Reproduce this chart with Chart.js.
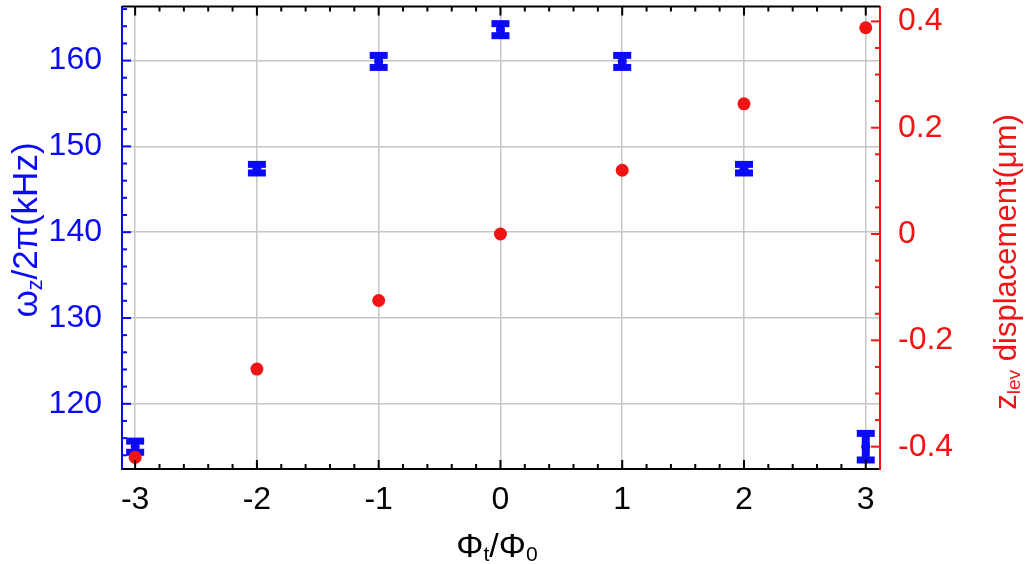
<!DOCTYPE html>
<html>
<head>
<meta charset="utf-8">
<script src="https://cdn.jsdelivr.net/npm/chart.js@4/dist/chart.umd.min.js"></script>
<style>
html, body { margin: 0; padding: 0; background: #fff; }
#wrap { width: 1025px; height: 564px; }
</style>
</head>
<body>
<div id="wrap"><canvas id="chart" width="1025" height="564"></canvas></div>
<script>
// flux ratio (x axis)
const fluxRatio = [-3, -2, -1, 0, 1, 2, 3];
// trap frequency wz/2pi (kHz) and its error
const freqKHz = [115.0, 147.4, 159.9, 163.6, 159.9, 147.4, 115.0];
const freqErr = [0.65, 0.5, 0.7, 0.7, 0.7, 0.5, 1.55];
// levitation displacement (um)
const zLev = [-0.42, -0.254, -0.125, 0, 0.12, 0.245, 0.388];

// tick labels
const xTicks = [-3, -2, -1, 0, 1, 2, 3];
const leftTicks = [120, 130, 140, 150, 160];
const rightTicks = [-0.4, -0.2, 0, 0.2, 0.4];

const BLUE = 'rgb(10,10,245)';
const RED = 'rgb(240,20,20)';
const FONT = '"Liberation Sans", Arial, sans-serif';

// draws text made of normal and subscript parts, centered at (x, y)
function drawSubText(ctx, parts, x, y, angle, size, color, drop) {
    ctx.save();
    ctx.translate(x, y);
    ctx.rotate(angle);
    ctx.fillStyle = color;
    ctx.textBaseline = 'alphabetic';
    let total = 0;
    parts.forEach(p => {
        ctx.font = (p.sub ? size * 0.62 : size) + 'px ' + FONT;
        p.w = ctx.measureText(p.t).width;
        total += p.w;
    });
    let cx = -total / 2;
    parts.forEach(p => {
        ctx.font = (p.sub ? size * 0.62 : size) + 'px ' + FONT;
        ctx.fillText(p.t, cx, size * 0.36 + (p.sub ? size * drop : 0));
        cx += p.w;
    });
    ctx.restore();
}

const decor = {
    id: 'decor',
    beforeDatasetsDraw(chart) {
        // error bars for the frequency series
        const { ctx, scales } = chart;
        ctx.save();
        ctx.fillStyle = BLUE;
        fluxRatio.forEach((fx, i) => {
            const px = scales.x.getPixelForValue(fx);
            const top = scales.y.getPixelForValue(freqKHz[i] + freqErr[i]);
            const bot = scales.y.getPixelForValue(freqKHz[i] - freqErr[i]);
            ctx.fillRect(px - 4, top, 8, bot - top);
            ctx.fillRect(px - 9, top - 3.5, 18, 7);
            ctx.fillRect(px - 9, bot - 3.5, 18, 7);
        });
        ctx.restore();
    },
    afterDraw(chart) {
        const { ctx, chartArea: a, scales } = chart;
        ctx.save();
        ctx.lineWidth = 2;

        // top frame line
        ctx.strokeStyle = '#000';
        ctx.beginPath();
        ctx.moveTo(a.left, a.top);
        ctx.lineTo(a.right, a.top);
        ctx.stroke();

        // x ticks, inward, bottom and top
        for (let k = -15; k <= 15; k++) {
            const px = scales.x.getPixelForValue(k / 5);
            const len = k % 5 === 0 ? 9 : 5;
            ctx.beginPath();
            ctx.moveTo(px, a.bottom); ctx.lineTo(px, a.bottom - len);
            ctx.moveTo(px, a.top); ctx.lineTo(px, a.top + len);
            ctx.stroke();
        }

        // left ticks
        ctx.strokeStyle = BLUE;
        for (let v = 114; v <= 166; v += 2) {
            const py = scales.y.getPixelForValue(v);
            const len = v % 10 === 0 ? 9 : 5;
            ctx.beginPath();
            ctx.moveTo(a.left, py); ctx.lineTo(a.left + len, py);
            ctx.stroke();
        }

        // right ticks
        ctx.strokeStyle = RED;
        for (let k = -8; k <= 8; k++) {
            const py = scales.y1.getPixelForValue(k * 0.05);
            const len = k % 4 === 0 ? 9 : 5;
            ctx.beginPath();
            ctx.moveTo(a.right, py); ctx.lineTo(a.right - len, py);
            ctx.stroke();
        }
        ctx.restore();

        // axis titles with subscripts
        drawSubText(ctx, [{ t: 'ω' }, { t: 'z', sub: true }, { t: '/2π(kHz)' }],
            24, 230, -Math.PI / 2, 35, BLUE, 0.15);
        drawSubText(ctx, [{ t: 'z' }, { t: 'lev', sub: true }, { t: ' displacement(μm)' }],
            1005, 262, -Math.PI / 2, 31, RED, 0.12);
        drawSubText(ctx, [{ t: 'Φ' }, { t: 't', sub: true }, { t: '/Φ' }, { t: '0', sub: true }],
            497, 545, 0, 34, '#000', 0.1);
    }
};

// drop the extra room chart.js keeps for tick label overflow
function noPad(s) {
    s.paddingTop = 0; s.paddingBottom = 0;
    s.paddingLeft = 0; s.paddingRight = 0;
}

const ctx = document.getElementById('chart').getContext('2d');
const chart = new Chart(ctx, {
    type: 'scatter',
    data: {
        datasets: [{
            label: 'z_lev',
            data: fluxRatio.map((x, i) => ({ x: x, y: zLev[i] })),
            yAxisID: 'y1',
            pointRadius: 6.5,
            pointBackgroundColor: RED,
            pointBorderWidth: 0,
            order: 0
        }, {
            label: 'wz/2pi',
            data: fluxRatio.map((x, i) => ({ x: x, y: freqKHz[i] })),
            yAxisID: 'y',
            pointRadius: 4.5,
            pointBackgroundColor: BLUE,
            pointBorderWidth: 0,
            order: 1
        }]
    },
    options: {
        responsive: false,
        animation: false,
        layout: { padding: { top: 2 } },
        plugins: { legend: { display: false }, tooltip: { enabled: false } },
        scales: {
            x: {
                type: 'linear',
                min: -3.108,
                max: 3.117,
                afterBuildTicks: s => { s.ticks = xTicks.map(v => ({ value: v })); },
                afterFit: s => { s.height = 95; noPad(s); },
                ticks: { color: '#000', font: { size: 32, family: FONT }, padding: 12 },
                grid: { color: '#c6c6c6', lineWidth: 1.5, drawTicks: false },
                border: { color: '#000', width: 2 }
            },
            y: {
                position: 'left',
                min: 112.4,
                max: 166.3,
                afterBuildTicks: s => { s.ticks = leftTicks.map(v => ({ value: v })); },
                afterFit: s => { s.width = 122; noPad(s); },
                ticks: { color: BLUE, font: { size: 32, family: FONT }, padding: 20 },
                grid: { color: '#c6c6c6', lineWidth: 1.5, drawTicks: false },
                border: { color: BLUE, width: 2 }
            },
            y1: {
                position: 'right',
                min: -0.442,
                max: 0.428,
                afterBuildTicks: s => { s.ticks = rightTicks.map(v => ({ value: v })); },
                afterFit: s => { s.width = 145; noPad(s); },
                ticks: { color: RED, font: { size: 32, family: FONT }, padding: 18,
                    callback: v => String(v) },
                grid: { drawOnChartArea: false, drawTicks: false },
                border: { color: RED, width: 2 }
            }
        }
    },
    plugins: [decor]
});
</script>
</body>
</html>
